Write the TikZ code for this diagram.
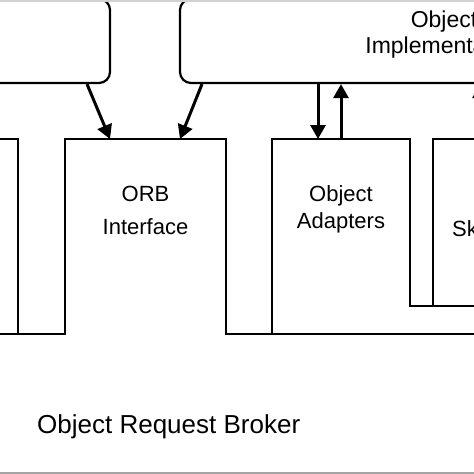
\documentclass[tikz,border=0pt]{standalone}
\usepackage{fontspec}
\setmainfont{Liberation Sans}
\usetikzlibrary{arrows.meta}
\begin{document}
\begin{tikzpicture}[x=1pt,y=-1pt,font=\fontsize{22}{26}\selectfont,
  wall/.style={line width=2pt,line join=miter},
  rbox/.style={draw,line width=2.2pt,rounded corners=11pt,inner sep=0pt},
  flow/.style={line width=3pt,-{Triangle[length=14pt,width=15pt]}}]
\definecolor{rim}{HTML}{D2D2D2}\definecolor{band}{HTML}{A4A4A4}
\useasboundingbox (0,0) rectangle (474,474);
\fill[white] (0,0) rectangle (474,474);
% upper boxes
\node[rbox,minimum width=170pt,minimum height=84pt] (client) at (25,41) {};
\node[rbox,minimum width=528pt,minimum height=84pt] (impl) at (444,41) {};
\node[anchor=base,align=center,font=\fontsize{23}{25.5}\selectfont] (impltxt) at (444,53) {Object\\Implementation};
\fill[rim] (0,0) rectangle (474,1.5);\fill[band] (0,471.5) rectangle (474,474);
% ORB teeth
\draw[wall] (-5,139)--(18,139)--(18,334);\draw[wall] (-5,334)--(65,334)--(65,139)--(226,139)--(226,334)--(490,334);
\draw[wall] (272,334)--(272,139)--(410,139)--(410,306)--(490,306);\draw[wall] (433,306)--(433,139)--(490,139);
\coordinate (oi1) at (110,139);\coordinate (oi2) at (180,139);\coordinate (oa1) at (318,139);\coordinate (oa2) at (341,139);\coordinate (sk1) at (480,139);
\node[anchor=base,align=center,font=\fontsize{22}{33}\selectfont] (orbif) at (145.5,234.5) {ORB\\Interface};
\node[anchor=base,align=center,font=\fontsize{22}{26.5}\selectfont] (adapt) at (341,228) {Object\\Adapters};
\node[anchor=base west,inner sep=0pt] (skel) at (452,236) {Skeleton};
\node[anchor=base west,inner sep=0pt,font=\fontsize{26}{30}\selectfont] (orb) at (37,433) {Object Request Broker};
% calls
\draw[flow] ([xshift=62pt]client.south) -- (oi1);\draw[flow] ([xshift=-242pt]impl.south) -- (oi2);
\draw[flow] ([xshift=-126pt]impl.south) -- (oa1);\draw[flow] (oa2) -- ([xshift=-103pt]impl.south);\draw[flow] (sk1) -- ([xshift=36pt]impl.south);
\end{tikzpicture}
\end{document}
